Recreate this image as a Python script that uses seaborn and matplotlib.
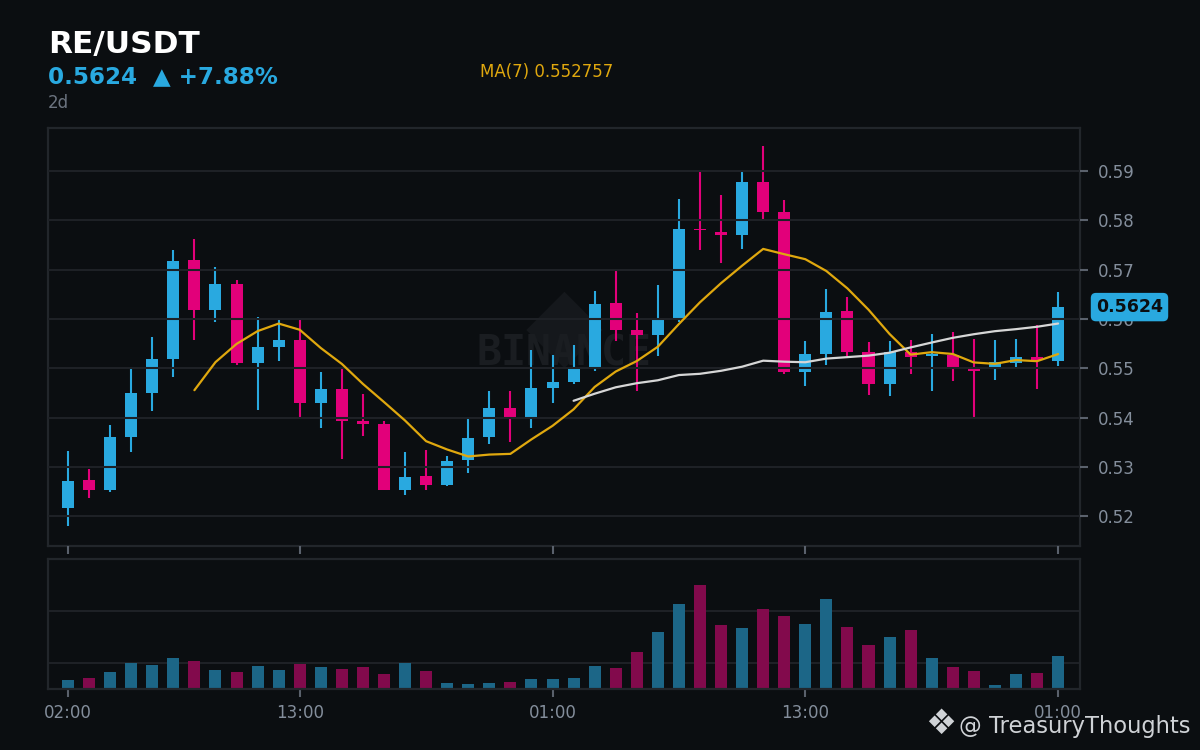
import numpy as np
import pandas as pd
import matplotlib
matplotlib.use("Agg")
import matplotlib.pyplot as plt
import seaborn as sns
from matplotlib.transforms import blended_transform_factory

# ---------------- data ----------------
opens = [0.5216, 0.5274, 0.5252, 0.5361, 0.5450, 0.5519, 0.5719, 0.5618, 0.5670, 0.5511,
         0.5543, 0.5557, 0.5430, 0.5458, 0.5392, 0.5386, 0.5254, 0.5282, 0.5264, 0.5313,
         0.5361, 0.5419, 0.5396, 0.5460, 0.5472, 0.5500, 0.5632, 0.5577, 0.5568, 0.5601,
         0.5783, 0.5777, 0.5770, 0.5878, 0.5816, 0.5493, 0.5528, 0.5617, 0.5533, 0.5468,
         0.5533, 0.5524, 0.5526, 0.5502, 0.5501, 0.5511, 0.5522, 0.5515]
highs = [0.5332, 0.5296, 0.5385, 0.5502, 0.5563, 0.5739, 0.5763, 0.5706, 0.5678, 0.5603,
         0.5597, 0.5597, 0.5492, 0.5502, 0.5447, 0.5393, 0.5330, 0.5334, 0.5321, 0.5401,
         0.5454, 0.5454, 0.5537, 0.5526, 0.5547, 0.5656, 0.5698, 0.5611, 0.5668, 0.5844,
         0.5903, 0.5852, 0.5897, 0.5951, 0.5842, 0.5555, 0.5660, 0.5644, 0.5553, 0.5555,
         0.5557, 0.5569, 0.5573, 0.5559, 0.5557, 0.5559, 0.5587, 0.5654]
lows = [0.5180, 0.5237, 0.5248, 0.5330, 0.5414, 0.5483, 0.5557, 0.5593, 0.5507, 0.5416,
        0.5515, 0.5399, 0.5379, 0.5315, 0.5363, 0.5252, 0.5242, 0.5254, 0.5262, 0.5288,
        0.5347, 0.5351, 0.5379, 0.5430, 0.5468, 0.5494, 0.5555, 0.5454, 0.5525, 0.5594,
        0.5740, 0.5713, 0.5742, 0.5803, 0.5488, 0.5463, 0.5507, 0.5524, 0.5445, 0.5444,
        0.5488, 0.5454, 0.5474, 0.5400, 0.5477, 0.5502, 0.5458, 0.5505]
closes = [0.5272, 0.5252, 0.5361, 0.5450, 0.5518, 0.5717, 0.5618, 0.5670, 0.5511, 0.5543,
          0.5557, 0.5430, 0.5458, 0.5392, 0.5386, 0.5254, 0.5280, 0.5264, 0.5312, 0.5359,
          0.5419, 0.5396, 0.5460, 0.5472, 0.5498, 0.5630, 0.5578, 0.5568, 0.5599, 0.5783,
          0.5780, 0.5770, 0.5878, 0.5816, 0.5493, 0.5528, 0.5615, 0.5533, 0.5468, 0.5533,
          0.5523, 0.5528, 0.5502, 0.5495, 0.5513, 0.5522, 0.5517, 0.5624]
volumes = [0.17, 0.21, 0.33, 0.50, 0.46, 0.60, 0.54, 0.37, 0.33, 0.44,
           0.37, 0.48, 0.42, 0.38, 0.42, 0.29, 0.50, 0.35, 0.12, 0.10,
           0.12, 0.13, 0.19, 0.19, 0.21, 0.44, 0.40, 0.71, 1.10, 1.63,
           2.00, 1.23, 1.17, 1.54, 1.40, 1.25, 1.73, 1.19, 0.85, 1.01,
           1.13, 0.60, 0.42, 0.35, 0.08, 0.29, 0.31, 0.63]
x_tick_pos = [0, 11, 23, 35, 47]
x_tick_labels = ["02:00", "13:00", "01:00", "13:00", "01:00"]
y_ticks = [0.52, 0.53, 0.54, 0.55, 0.56, 0.57, 0.58, 0.59]
vol_grid = [0.5, 1.5]

# ---------------- style ----------------
BG = "#0b0e11"
GRID = "#1e2126"
SPINE = "#22262b"
TXT = "#848e9c"
UP = "#29a9e0"
DN = "#e2007a"
VUP = "#1c6687"
VDN = "#820a4c"
MA7C = "#e0a80e"
MA25C = "#d6d6d6"

sns.set_theme(style="dark", rc={
    "axes.facecolor": BG, "figure.facecolor": BG, "savefig.facecolor": BG,
    "axes.edgecolor": SPINE, "grid.color": GRID,
})
plt.rcParams["font.family"] = ["DejaVu Sans"]

df = pd.DataFrame({"idx": np.arange(len(closes)), "open": opens, "high": highs,
                   "low": lows, "close": closes, "vol": volumes})
df["dir"] = np.where(df["close"] >= df["open"], "up", "down")
df["ma7"] = df["close"].rolling(7).mean()
df["ma25"] = df["close"].rolling(25).mean()

fig = plt.figure(figsize=(12, 7.5), dpi=100)
ax = fig.add_axes([0.04, 0.272, 0.86, 0.5573])
axv = fig.add_axes([0.04, 0.0813, 0.86, 0.1733])

# ---------------- candles ----------------
cols = np.where(df["dir"] == "up", UP, DN)
ax.vlines(df["idx"], df["low"], df["high"], colors=cols, lw=1.5, zorder=2)
body_bottom = np.minimum(df["open"], df["close"])
body_h = np.maximum((df["close"] - df["open"]).abs(), 0.0003)
ax.bar(df["idx"], body_h, bottom=body_bottom, width=0.57, color=cols, linewidth=0, zorder=2)

sns.lineplot(data=df, x="idx", y="ma7", ax=ax, color=MA7C, lw=1.6, zorder=4)
sns.lineplot(data=df, x="idx", y="ma25", ax=ax, color=MA25C, lw=1.6, zorder=4)

ax.set_xlim(-0.95, 48.04)
ax.set_ylim(0.51394, 0.59872)
ax.set_xlabel("")
ax.set_ylabel("")
ax.set_axisbelow(False)
ax.yaxis.tick_right()
ax.set_yticks(y_ticks)
ax.set_yticklabels([f"{v:.2f}" for v in y_ticks])
ax.set_xticks(x_tick_pos)
ax.set_xticklabels([])
ax.grid(axis="y", color=GRID, lw=1.5, zorder=2.5)
ax.grid(axis="x", visible=False)
ax.tick_params(axis="y", which="both", right=True, left=False, length=6, width=1.5,
               color="#5a616c", labelcolor=TXT, labelsize=12, pad=7)
ax.tick_params(axis="x", bottom=True, length=6, width=1.5, color="#5a616c")
for s in ax.spines.values():
    s.set_color(SPINE)
    s.set_linewidth(1.6)
    s.set_visible(True)

# watermark
ax.text(0.5, 0.52, "\u25C6", transform=ax.transAxes, ha="center", va="center",
        fontsize=72, color="#15181c", zorder=0.5)
ax.text(0.5, 0.46, "BINANCE", transform=ax.transAxes, ha="center", va="center",
        fontsize=30, color="#1a1d21", family="DejaVu Sans Mono", fontweight="bold", zorder=0.6)

# current price label
tr = blended_transform_factory(ax.transAxes, ax.transData)
ax.text(1.0155, closes[-1], f"{closes[-1]:.4f}", transform=tr, ha="left", va="center",
        fontsize=12.5, fontweight="bold", color=BG, zorder=10, clip_on=False,
        bbox=dict(boxstyle="round,pad=0.3,rounding_size=0.3", fc=UP, ec="none"))

# ---------------- volume ----------------
sns.barplot(data=df, x="idx", y="vol", hue="dir", palette={"up": VUP, "down": VDN},
            dodge=False, width=0.57, native_scale=True, errorbar=None, legend=False,
            saturation=1, linewidth=0, ax=axv, zorder=2)
axv.set_xlim(-0.95, 48.04)
axv.set_ylim(0, 2.5)
axv.set_xlabel("")
axv.set_ylabel("")
axv.set_yticks(vol_grid)
axv.set_yticklabels([])
axv.grid(axis="y", color=GRID, lw=1.5)
axv.grid(axis="x", visible=False)
axv.set_axisbelow(True)
axv.tick_params(axis="y", length=0, left=False, right=False)
axv.set_xticks(x_tick_pos)
axv.set_xticklabels(x_tick_labels)
axv.tick_params(axis="x", bottom=True, length=6, width=1.5, color="#5a616c",
                labelcolor=TXT, labelsize=12, pad=5)
for s in axv.spines.values():
    s.set_color(SPINE)
    s.set_linewidth(1.6)
    s.set_visible(True)

# ---------------- header ----------------
fig.text(48 / 1200, 1 - 53 / 750, "RE/USDT", fontsize=22.5, fontweight="bold",
         color="white", va="baseline", ha="left")
fig.text(48 / 1200, 1 - 83 / 750, "0.5624  \u25B2 +7.88%", fontsize=16.6, fontweight="bold",
         color=UP, va="baseline", ha="left")
fig.text(48 / 1200, 1 - 108 / 750, "2d", fontsize=12, color="#6c7480",
         va="baseline", ha="left")
fig.text(480 / 1200, 1 - 77 / 750, "MA(7) 0.552757", fontsize=12, color=MA7C,
         va="baseline", ha="left")

# footer
fig.text(941 / 1200, 1 - 724 / 750, "\u2756", fontsize=25, color="#cfd2d6",
         va="center", ha="center")
fig.text(959 / 1200, 1 - 733 / 750, "@ TreasuryThoughts", fontsize=16.3, color="#cfd2d6",
         va="baseline", ha="left")

fig.savefig("out.png", dpi=100, facecolor=BG)
